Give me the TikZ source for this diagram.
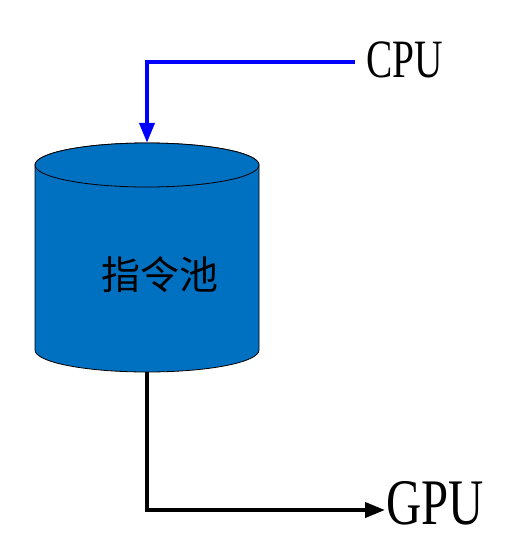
\documentclass[tikz,border=0pt]{standalone}
\usepackage{fontspec}
\setmainfont{Liberation Serif}
\newfontfamily\cjk{Noto Sans CJK SC}
\usetikzlibrary{arrows.meta}
\definecolor{poolblue}{RGB}{0,112,192}
\tikzset{
	poolbody/.style={fill=poolblue, draw=black, line width=0.8pt},
	link/.style={line width=4pt, -{Triangle[length=20pt, width=15pt]}},
	unit/.style={inner sep=0pt, font=\fontsize{54}{54}\selectfont}
}

\begin{document}
\begin{tikzpicture}[x=1pt, y=-1pt]
			%%%%% START %%%%%
			\useasboundingbox (0, 0) rectangle (529, 550);
			
			% cylinder
			\draw[poolbody] (35, 165) -- (35, 350) arc (180:0:112 and 22) -- (259, 165) arc (0:-180:112 and 22) -- cycle;
			\draw[poolbody] (147, 165) ellipse (112 and 22);
			\node[inner sep=0pt, minimum width=224pt, minimum height=229pt] (pool) at (147, 257.5) {};
			\node[inner sep=0pt, font=\cjk\fontsize{39}{39}\selectfont] (poolname) at (160, 275) {指令池};
			
			\node[unit, anchor=west] (cpu) at (366, 60) {\scalebox{0.73}[1]{CPU}};
			\node[unit, anchor=west, font=\fontsize{65}{65}\selectfont] (gpu) at (386, 503.5) {\scalebox{0.75}[1]{GPU}};
			
			\draw[link, blue, shorten <=11pt] ([yshift=-2pt]cpu.west) -| (pool.north);
			\draw[link, black, shorten >=1pt] (pool.south) |- ([yshift=-6.5pt]gpu.west);
			%%%%% END %%%%%
\end{tikzpicture}
\end{document}
